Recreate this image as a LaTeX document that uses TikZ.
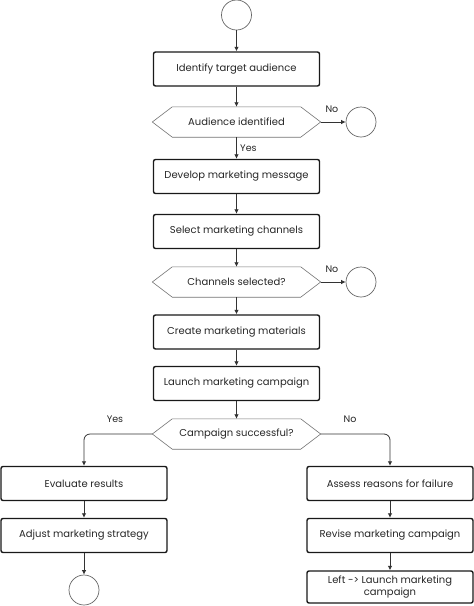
\documentclass[tikz,border=0pt]{standalone}
\usepackage{fontspec}
\setmainfont{Poppins}
\usetikzlibrary{arrows.meta}
\begin{document}
\begin{tikzpicture}[x=1pt,y=-1pt,
  every node/.style={font=\fontsize{10}{11.5}\selectfont, text=black!85},
  box/.style={draw=black!90, line width=1.4pt, rounded corners=2pt, minimum width=166pt, minimum height=34pt, inner sep=1pt, align=center},
  hexa/.style={minimum width=168pt, minimum height=30pt, inner sep=0pt},
  hexline/.style={draw=black!55, line width=0.6pt},
  term/.style={circle, draw=black!60, line width=0.7pt, minimum size=30pt, inner sep=0pt},
  conn/.style={draw=black!80, line width=0.8pt, -{Latex[length=4.5pt,width=4.5pt]}},
  lbl/.style={font=\fontsize{9.5}{11}\selectfont}
]
\useasboundingbox (0,0) rectangle (474,606);
\newcommand\hexnode[4]{%
  \node[hexa] (#1) at (#2,#3) {#4};
  \draw[hexline] (#1.west) -- ([xshift=20pt]#1.north west) -- ([xshift=-20pt]#1.north east) -- (#1.east) -- ([xshift=-20pt]#1.south east) -- ([xshift=20pt]#1.south west) -- cycle;}

\node[term] (start) at (236.5,15) {};
\node[box] (b1) at (236.5,69) {Identify target audience};
\hexnode{h1}{236.5}{122}{Audience identified}
\node[term] (c1) at (361,122) {};
\node[box] (b2) at (236.5,176.5) {Develop marketing message};
\node[box] (b3) at (236.5,231.5) {Select marketing channels};
\hexnode{h2}{236.5}{282}{Channels selected?}
\node[term] (c2) at (361,282) {};
\node[box] (b4) at (236.5,332) {Create marketing materials};
\node[box] (b5) at (236.5,383.5) {Launch marketing campaign};
\hexnode{h3}{236.5}{434}{Campaign successful?}

\node[box] (l1) at (84,483.5) {Evaluate results};
\node[box] (l2) at (84,535.5) {Adjust marketing strategy};
\node[term] (c3) at (84,590) {};

\node[box] (r1) at (390,483.5) {Assess reasons for failure};
\node[box] (r2) at (390,535.5) {Revise marketing campaign};
\node[box, minimum height=32pt] (r3) at (390,587) {Left -> Launch marketing\\campaign};

\path[conn] (start) -- (b1);
\path[conn] (b1) -- (h1);
\path[conn] (h1) -- node[lbl, above, pos=0.45, yshift=6pt] {No} (c1);
\path[conn] (h1) -- node[lbl, right, pos=0.5] {Yes} (b2);
\path[conn] (b2) -- (b3);
\path[conn] (b3) -- (h2);
\path[conn] (h2) -- node[lbl, above, pos=0.45, yshift=6pt] {No} (c2);
\path[conn] (h2) -- (b4);
\path[conn] (b4) -- (b5);
\path[conn] (b5) -- (h3);
\path[conn, rounded corners=6pt] (h3.west) -| (l1.north);
\path[conn, rounded corners=6pt] (h3.east) -| (r1.north);
\node[lbl] (yes3) at (115,419) {Yes};
\node[lbl] (no3) at (350,419) {No};
\path[conn] (l1) -- (l2);
\path[conn] (l2) -- (c3);
\path[conn] (r1) -- (r2);
\path[conn] (r2) -- (r3);
\end{tikzpicture}
\end{document}
